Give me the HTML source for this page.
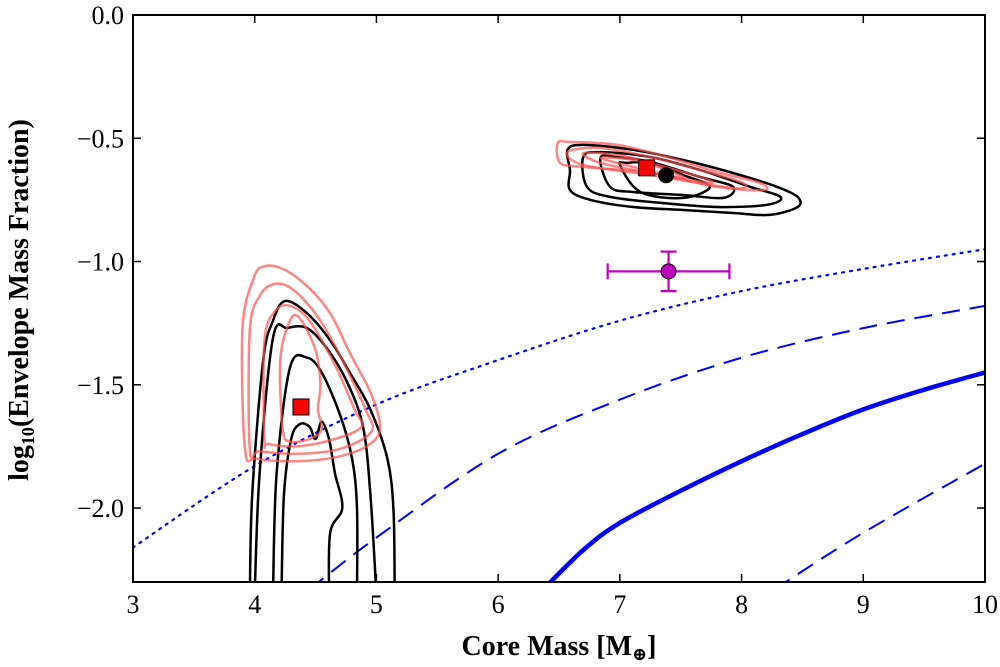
<!DOCTYPE html>
<html><head><meta charset="utf-8"><style>
body{margin:0;background:#fff}
svg{display:block;font-family:"Liberation Serif","DejaVu Serif",serif}
</style></head><body>
<svg id="chart" width="1000" height="667" viewBox="0 0 1000 667" xmlns="http://www.w3.org/2000/svg">
<defs><clipPath id="clip"><rect x="133" y="15" width="852" height="567"/></clipPath></defs>
<g id="plot" clip-path="url(#clip)"></g>
<rect x="133" y="15" width="852" height="567" fill="none" stroke="#000" stroke-width="2"/>
<g id="axes"></g>
<text x="559" y="655" text-anchor="middle" font-size="28" font-weight="bold">Core Mass [M<tspan font-size="18" dy="5">⊕</tspan><tspan dy="-5">]</tspan></text>
<text transform="translate(28,300) rotate(-90)" text-anchor="middle" font-size="28" font-weight="bold">log<tspan font-size="18" dy="6">10</tspan><tspan dy="-6">(Envelope Mass Fraction)</tspan></text>
</svg>
<script>
const xTicks=[3,4,5,6,7,8,9,10];
const yTicks=[0.0,-0.5,-1.0,-1.5,-2.0];
const yTickLabels=["0.0","\u22120.5","\u22121.0","\u22121.5","\u22122.0"];
const dottedCurve=[[3,-2.16],[4,-1.83],[5,-1.58],[6,-1.40],[7,-1.24],[8,-1.12],[9,-1.03],[10,-0.95]];
const dashedUpper=[[4.45,-2.33],[5,-2.12],[6,-1.78],[7,-1.56],[8,-1.39],[9,-1.27],[10,-1.18]];
const solidCurve=[[6.37,-2.33],[6.7,-2.17],[7,-2.06],[7.5,-1.93],[8,-1.81],[8.5,-1.70],[9,-1.60],[9.5,-1.52],[10,-1.45]];
const dashedLower=[[8.27,-2.33],[9,-2.1],[10,-1.82]];
const blackLow=[
[[3.96,-2.35],[3.98,-1.94],[4.07,-1.40],[4.15,-1.24],[4.25,-1.16],[4.43,-1.21],[4.62,-1.32],[4.78,-1.45],[4.95,-1.60],[5.09,-1.80],[5.14,-2.01],[5.15,-2.35]],
[[4.00,-2.35],[4.04,-1.86],[4.15,-1.31],[4.27,-1.27],[4.43,-1.27],[4.59,-1.35],[4.76,-1.49],[4.89,-1.67],[4.95,-1.94],[5.00,-2.35]],
[[4.15,-2.35],[4.18,-1.86],[4.29,-1.43],[4.43,-1.39],[4.55,-1.45],[4.70,-1.62],[4.80,-1.80],[4.84,-2.0],[4.84,-2.35]],
[[4.22,-2.35],[4.24,-1.95],[4.30,-1.72],[4.37,-1.66],[4.45,-1.67],[4.50,-1.72],[4.55,-1.65],[4.61,-1.72],[4.66,-1.86],[4.72,-2.0],[4.62,-2.1],[4.61,-2.35]]
];
const redLow=[
[[3.92,-1.76],[3.90,-1.27],[3.99,-1.07],[4.07,-1.02],[4.23,-1.03],[4.43,-1.10],[4.62,-1.21],[4.78,-1.37],[4.95,-1.53],[5.03,-1.67],[4.95,-1.74],[4.70,-1.79],[4.35,-1.81],[4.02,-1.80]],
[[3.96,-1.76],[3.96,-1.28],[4.04,-1.14],[4.17,-1.09],[4.33,-1.12],[4.54,-1.24],[4.74,-1.42],[4.91,-1.60],[4.96,-1.69],[4.70,-1.76],[4.35,-1.78],[4.04,-1.77]],
[[4.08,-1.72],[4.08,-1.32],[4.17,-1.20],[4.29,-1.18],[4.45,-1.24],[4.66,-1.42],[4.82,-1.60],[4.88,-1.67],[4.66,-1.72],[4.35,-1.75],[4.11,-1.74]],
[[4.23,-1.68],[4.21,-1.40],[4.29,-1.24],[4.37,-1.23],[4.50,-1.36],[4.54,-1.50],[4.52,-1.60],[4.55,-1.68],[4.45,-1.72],[4.29,-1.73]]
];
const blackUp=[
[[6.57,-0.547],[6.59,-0.629],[6.59,-0.710],[6.76,-0.750],[7.11,-0.779],[7.52,-0.791],[7.93,-0.803],[8.23,-0.811],[8.46,-0.779],[8.46,-0.738],[8.29,-0.697],[7.93,-0.641],[7.52,-0.588],[7.11,-0.547],[6.70,-0.527]],
[[6.70,-0.576],[6.73,-0.697],[6.92,-0.738],[7.33,-0.762],[7.80,-0.779],[8.21,-0.770],[8.32,-0.738],[8.07,-0.697],[7.66,-0.629],[7.25,-0.576],[6.84,-0.556]],
[[6.84,-0.580],[6.92,-0.697],[7.11,-0.718],[7.52,-0.730],[7.85,-0.742],[7.93,-0.697],[7.66,-0.657],[7.25,-0.596],[6.98,-0.576]],
[[7.00,-0.608],[7.17,-0.718],[7.52,-0.742],[7.74,-0.697],[7.52,-0.649],[7.25,-0.600],[7.06,-0.600]]
];
const redUp=[
[[6.49,-0.519],[6.51,-0.600],[6.70,-0.616],[7.25,-0.641],[7.80,-0.697],[8.18,-0.710],[8.15,-0.681],[7.80,-0.637],[7.39,-0.576],[6.98,-0.527],[6.59,-0.515]],
[[6.57,-0.556],[6.70,-0.608],[7.25,-0.649],[7.93,-0.702],[8.01,-0.681],[7.66,-0.629],[7.25,-0.576],[6.84,-0.539]],
[[6.70,-0.560],[6.84,-0.600],[7.25,-0.641],[7.74,-0.681],[7.66,-0.657],[7.25,-0.600],[6.98,-0.568]],
[[6.84,-0.580],[7.11,-0.616],[7.52,-0.661],[7.39,-0.629],[7.11,-0.588]]
];
const redSquares=[[4.38,-1.59],[7.22,-0.62]];
const blackCircle=[7.38,-0.65];
const obsPoint=[7.40,-1.04];
const obsXErr=[0.5];
const obsYErr=[0.08];

const NS="http://www.w3.org/2000/svg";
const X0=3,X1=10,Y0=0,Y1=-2.3,L=133,R=985,T=15,B=582;
function sx(v){return L+(v-X0)/(X1-X0)*(R-L);}
function sy(v){return T+(v-Y0)/(Y1-Y0)*(B-T);}
const plot=document.getElementById('plot'),axes=document.getElementById('axes');
function mk(tag,attrs,parent){const e=document.createElementNS(NS,tag);for(const k in attrs)e.setAttribute(k,attrs[k]);parent.appendChild(e);return e;}
function smooth(pts,closed){
  const p=pts.map(q=>[sx(q[0]),sy(q[1])]);const n=p.length;
  let d="M"+p[0][0].toFixed(1)+","+p[0][1].toFixed(1);
  const get=i=>closed?p[(i+n)%n]:p[Math.max(0,Math.min(n-1,i))];
  const segs=closed?n:n-1;
  for(let i=0;i<segs;i++){
    const p0=get(i-1),p1=get(i),p2=get(i+1),p3=get(i+2);
    const c1=[p1[0]+(p2[0]-p0[0])/6,p1[1]+(p2[1]-p0[1])/6];
    const c2=[p2[0]-(p3[0]-p1[0])/6,p2[1]-(p3[1]-p1[1])/6];
    d+="C"+c1[0].toFixed(1)+","+c1[1].toFixed(1)+" "+c2[0].toFixed(1)+","+c2[1].toFixed(1)+" "+p2[0].toFixed(1)+","+p2[1].toFixed(1);
  }
  return d+(closed?"Z":"");
}
let e;
e=mk('path',{d:smooth(dottedCurve,false),fill:'none',stroke:'#0000ff','stroke-width':2.2,'stroke-dasharray':'2 6','stroke-linecap':'round'},plot);


e=mk('path',{d:smooth(dashedUpper,false),fill:'none',stroke:'#0000ff','stroke-width':2,'stroke-dasharray':'18 10'},plot);


e=mk('path',{d:smooth(solidCurve,false),fill:'none',stroke:'#0000ff','stroke-width':4.5},plot);


e=mk('path',{d:smooth(dashedLower,false),fill:'none',stroke:'#0000ff','stroke-width':2,'stroke-dasharray':'18 10'},plot);


blackLow.forEach(c=>{const p=mk('path',{d:smooth(c,false),fill:'none',stroke:'#000','stroke-width':2.5},plot);

});
redLow.forEach(c=>{const p=mk('path',{d:smooth(c,true),fill:'none',stroke:'#ff5050','stroke-opacity':0.7,'stroke-width':2.5},plot);

});
blackUp.forEach(c=>{const p=mk('path',{d:smooth(c,true),fill:'none',stroke:'#000','stroke-width':2.5},plot);

});
redUp.forEach(c=>{const p=mk('path',{d:smooth(c,true),fill:'none',stroke:'#ff5050','stroke-opacity':0.7,'stroke-width':2.5},plot);

});
e=mk('circle',{cx:sx(blackCircle[0]),cy:sy(blackCircle[1]),r:8,fill:'#000'},plot);


redSquares.forEach(s=>{const r=mk('rect',{x:sx(s[0])-8,y:sy(s[1])-8,width:16,height:16,fill:'#ff0000',stroke:'#000','stroke-width':1},plot);

});
const ox=sx(obsPoint[0]),oy=sy(obsPoint[1]);
const xl=sx(obsPoint[0]-obsXErr[0]),xr=sx(obsPoint[0]+obsXErr[0]),yt=sy(obsPoint[1]+obsYErr[0]),yb=sy(obsPoint[1]-obsYErr[0]);
const eg=mk('g',{stroke:'#bf00bf','stroke-width':2.2},plot);


mk('line',{x1:xl,y1:oy,x2:xr,y2:oy},eg);mk('line',{x1:ox,y1:yt,x2:ox,y2:yb},eg);
mk('line',{x1:xl,y1:oy-8,x2:xl,y2:oy+8},eg);mk('line',{x1:xr,y1:oy-8,x2:xr,y2:oy+8},eg);
mk('line',{x1:ox-8,y1:yt,x2:ox+8,y2:yt},eg);mk('line',{x1:ox-8,y1:yb,x2:ox+8,y2:yb},eg);
e=mk('circle',{cx:ox,cy:oy,r:7.5,fill:'#bf00bf',stroke:'#000','stroke-width':1},plot);


xTicks.forEach(v=>{const x=sx(v);
mk('line',{x1:x,y1:B,x2:x,y2:B-8,stroke:'#000','stroke-width':1.5},axes);
mk('line',{x1:x,y1:T,x2:x,y2:T+8,stroke:'#000','stroke-width':1.5},axes);
const t=mk('text',{x:x,y:B+31,'text-anchor':'middle','font-size':26},axes);t.textContent=String(v);

});
yTicks.forEach((v,i)=>{const y=sy(v);
mk('line',{x1:L,y1:y,x2:L+8,y2:y,stroke:'#000','stroke-width':1.5},axes);
mk('line',{x1:R,y1:y,x2:R-8,y2:y,stroke:'#000','stroke-width':1.5},axes);
const t=mk('text',{x:L-9,y:y+9,'text-anchor':'end','font-size':26},axes);t.textContent=yTickLabels[i];

});
</script>
</body></html>
